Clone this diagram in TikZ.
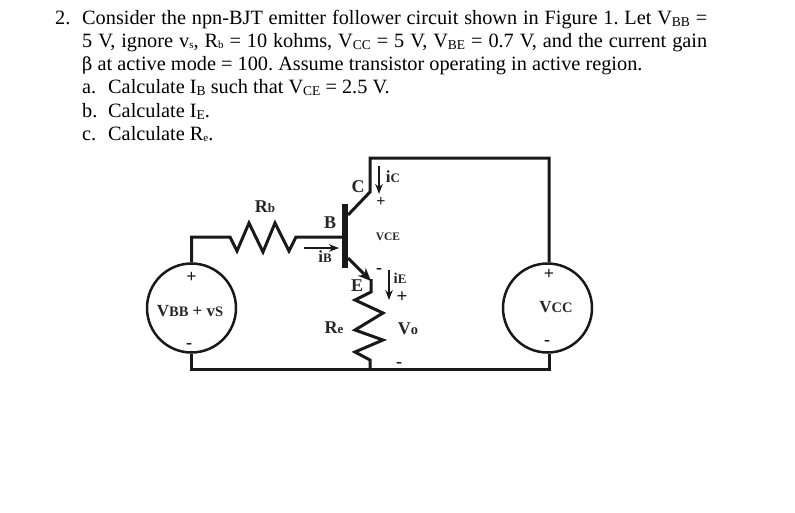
\documentclass[tikz,border=0pt]{standalone}
\usepackage{fontspec}
\setmainfont{Liberation Serif}
\frenchspacing
\newcommand{\lsub}[1]{\raisebox{-2.5pt}{\fontsize{13.5}{14}\selectfont #1}}
\newcommand{\lsm}[1]{\raisebox{-1.5pt}{\fontsize{11}{11}\selectfont #1}}
\newcommand{\csub}[1]{{\fontsize{13}{13}\selectfont #1}}
\newcommand{\dsub}[1]{{\fontsize{14.5}{14}\selectfont #1}}
\usetikzlibrary{arrows.meta}
\tikzset{
  x=1pt,y=-1pt,
  qline/.style={anchor=base west,inner sep=0pt,font=\fontsize{20.3}{23}\selectfont},
  wire/.style={line width=3pt,line join=miter,draw=black!90},
  src/.style={circle,draw=black!90,line width=2.5pt,minimum size=89pt,inner sep=0pt},
  bar/.style={fill=black!90,draw=none,minimum width=6pt,minimum height=64pt,inner sep=0pt},
  lab/.style={inner sep=0pt,font=\bfseries\fontsize{18}{18}\selectfont,text=black!85},
  mlab/.style={inner sep=0pt,font=\bfseries\fontsize{17}{17}\selectfont,text=black!85},
  sym/.style={inner sep=0pt,font=\bfseries\fontsize{18}{18}\selectfont,text=black!90},
  iarrow/.style={line width=1.7pt,draw=black!90,-{Stealth[length=10pt,width=7.5pt]}},
  earrow/.style={line width=3pt,draw=black!90,-{Stealth[length=13pt,width=11pt]}},
}
\begin{document}
\begin{tikzpicture}
\useasboundingbox (0,0) rectangle (795,512);
% question text
\node[qline] (n0) at (55,24) {2.};
\node[qline] (l1) at (82,24) {\hbox to 625pt{Consider the npn-BJT emitter follower circuit shown in Figure 1. Let V\lsub{BB} =}};
\node[qline] (l2) at (82,47) {\hbox to 625pt{5 V, ignore v\lsm{s}, R\lsm{b} = 10 kohms, V\lsub{CC} = 5 V, V\lsub{BE} = 0.7 V, and the current gain}};
\node[qline] (l3) at (82,70) {\fontspec{DejaVu Serif}\fontsize{18}{23}\selectfont β\fontspec{Liberation Serif}\fontsize{20.3}{23}\selectfont{} at active mode = 100. Assume transistor operating in active region.};
\node[qline] (a) at (82,93) {a.};
\node[qline] (la) at (108,93) {Calculate I\lsub{B} such that V\lsub{CE} = 2.5 V.};
\node[qline] (b) at (82,117) {b.};
\node[qline] (lb) at (108,117) {Calculate I\lsub{E}.};
\node[qline] (c) at (82,140) {c.};
\node[qline] (lc) at (108,140) {Calculate R\lsm{e}.};
% sources and transistor
\node[src] (vbb) at (191.5,308) {};
\node[src] (vcc) at (547.5,308) {};
\node[bar] (base) at (345,236) {};
% junction coordinates
\coordinate (cj) at (370,192);
\coordinate (bl) at (191,369);
\coordinate (br) at (549,369);
\coordinate (et) at (371,281);
\coordinate (rbl) at (230,237);
\coordinate (rbr) at (296,237);
\coordinate (ebot) at (370,369);
\coordinate (ctop) at (370,158);
\coordinate (ctr) at (549,158);
\coordinate (ec) at (348,258);
\coordinate (cc) at (348,215);
% wires
\draw[wire] (vbb.north) |- (rbl) -- (237,251) -- (249,223) -- (263,252) -- (275,223) -- (289,251) -- (rbr) -- (base.west |- rbr);
\draw[wire] (cc) -- (cj) -- (ctop) -- (ctr) -- (vcc.north -| ctr);
\draw[wire] (vbb.south) -- (vbb.south |- bl) -- (br) -- (vcc.south -| br);
\draw[earrow] (ec) -- (et);
\draw[wire] (371,279) -- (371,292) -- (355,300) -- (383,313) -- (355,330) -- (383,340) -- (355,352) -- (370,360) -- (ebot);
% current arrows
\coordinate (ica) at (379,166); \coordinate (icb) at (379,194);
\coordinate (iba) at (304,248); \coordinate (ibb) at (339,248);
\coordinate (iea) at (389,270); \coordinate (ieb) at (389,300);
\draw[iarrow] (ica) -- (icb);
\draw[iarrow] (iba) -- (ibb);
\draw[iarrow] (iea) -- (ieb);
% labels
\node[lab] (lC) at (358,187) {C};
\node[lab] (lB) at (330,223) {B};
\node[lab] (lE) at (357,286) {E};
\node[mlab] (liC) at (393,177) {i\csub{C}};
\node[sym,font=\bfseries\fontsize{16}{16}\selectfont] (pC) at (381,202) {+};
\node[inner sep=0pt,font=\bfseries\fontsize{11.5}{12}\selectfont,text=black!85] (lVCE) at (388,237) {VCE};
\node[sym] (mC) at (379,271) {-};
\node[mlab,font=\bfseries\fontsize{15}{15}\selectfont] (liE) at (400,278) {i\csub{E}};
\node[sym,font=\bfseries\fontsize{19}{19}\selectfont] (pE) at (402,297) {+};
\node[mlab] (liB) at (325,257) {i\csub{B}};
\node[lab] (lRb) at (265,207) {R\csub{b}};
\node[sym] (pB) at (191.5,277) {+};
\node[mlab] (lVBB) at (190,311) {V\dsub{BB} + v\dsub{S}};
\node[sym] (mB) at (189,346) {-};
\node[lab] (lRe) at (334,328) {R\csub{e}};
\node[lab] (lVo) at (408,329) {V\dsub{o}};
\node[sym] (mO) at (399,365) {-};
\node[mlab] (lVCC) at (556,307) {V\dsub{CC}};
\node[sym] (pV) at (549,274) {+};
\node[sym] (mV) at (547,343) {-};
\end{tikzpicture}
\end{document}
